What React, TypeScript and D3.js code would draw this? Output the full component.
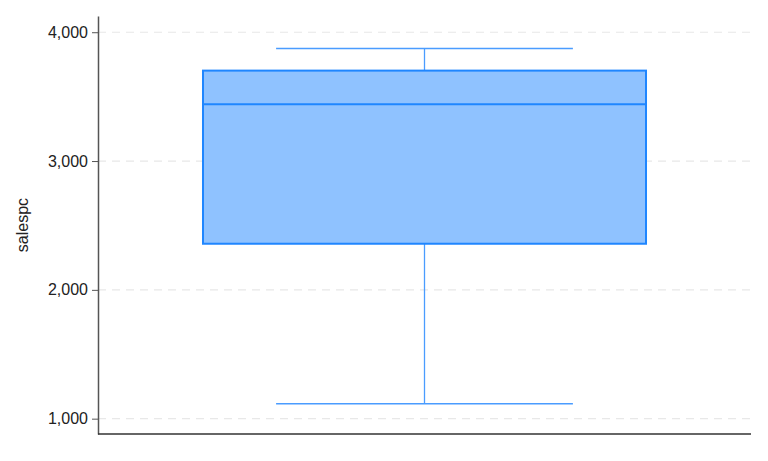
import * as d3 from "d3";
import { useEffect, useRef } from "react";

const categories = ["salespc"];
const q1 = [2358];
const median = [3441];
const q3 = [3702];
const whiskerLow = [1116];
const whiskerHigh = [3873];
const yTicks = [1000, 2000, 3000, 4000];

const FONT = "'Liberation Sans', Arial, sans-serif";

export default function App() {
  const ref = useRef<SVGSVGElement>(null);

  useEffect(() => {
    if (!ref.current) return;
    const width = 768;
    const height = 461;
    const margin = { top: 16, right: 17, bottom: 27, left: 98 };

    const svg = d3.select(ref.current);
    svg.selectAll("*").remove();

    const x = d3
      .scaleBand<string>()
      .domain(categories)
      .range([margin.left, width - margin.right])
      .paddingInner(0)
      .paddingOuter(0.237);
    const y = d3
      .scaleLinear()
      .domain([881, 4126])
      .range([height - margin.bottom, margin.top]);

    // grid
    svg
      .append("g")
      .selectAll("line")
      .data(yTicks)
      .join("line")
      .attr("x1", margin.left)
      .attr("x2", width - margin.right)
      .attr("y1", (d) => y(d))
      .attr("y2", (d) => y(d))
      .attr("stroke", "#e8e8e8")
      .attr("stroke-width", 1.2)
      .attr("stroke-dasharray", "8,6");

    const yAxis = svg
      .append("g")
      .attr("transform", `translate(${margin.left},0)`)
      .call(
        d3
          .axisLeft(y)
          .tickValues(yTicks)
          .tickFormat(d3.format(","))
          .tickSize(6)
          .tickPadding(4)
          .tickSizeOuter(0)
      );
    yAxis.attr("font-size", 16).attr("font-family", FONT);
    yAxis.select(".domain").attr("stroke", "#555").attr("stroke-width", 1.5);
    yAxis.selectAll(".tick line").attr("stroke", "#555");
    yAxis.selectAll("text").attr("fill", "#222");

    svg
      .append("line")
      .attr("x1", margin.left)
      .attr("x2", width - margin.right)
      .attr("y1", height - margin.bottom)
      .attr("y2", height - margin.bottom)
      .attr("stroke", "#333")
      .attr("stroke-width", 1.5);

    svg
      .append("text")
      .attr("transform", `translate(28,${(margin.top + height - margin.bottom) / 2}) rotate(-90)`)
      .attr("text-anchor", "middle")
      .attr("fill", "#222")
      .attr("font-family", FONT)
      .attr("font-size", 16)
      .text(categories[0]);

    const stroke = "#1f86ff";
    const whisker = "#4a9cff";
    categories.forEach((c, i) => {
      const x0 = x(c)!;
      const bw = x.bandwidth();
      const cx = x0 + bw / 2;
      const capW = bw * 0.67;
      const g = svg.append("g");
      g.append("line")
        .attr("x1", cx)
        .attr("x2", cx)
        .attr("y1", y(whiskerHigh[i]))
        .attr("y2", y(q3[i]))
        .attr("stroke", whisker)
        .attr("stroke-width", 1.3);
      g.append("line")
        .attr("x1", cx)
        .attr("x2", cx)
        .attr("y1", y(q1[i]))
        .attr("y2", y(whiskerLow[i]))
        .attr("stroke", whisker)
        .attr("stroke-width", 1.3);
      [whiskerHigh[i], whiskerLow[i]].forEach((v) => {
        g.append("line")
          .attr("x1", cx - capW / 2)
          .attr("x2", cx + capW / 2)
          .attr("y1", y(v))
          .attr("y2", y(v))
          .attr("stroke", whisker)
          .attr("stroke-width", 1.5);
      });
      g.append("rect")
        .attr("x", x0)
        .attr("width", bw)
        .attr("y", y(q3[i]))
        .attr("height", y(q1[i]) - y(q3[i]))
        .attr("fill", "#8fc2ff")
        .attr("stroke", stroke)
        .attr("stroke-width", 2);
      g.append("line")
        .attr("x1", x0)
        .attr("x2", x0 + bw)
        .attr("y1", y(median[i]))
        .attr("y2", y(median[i]))
        .attr("stroke", stroke)
        .attr("stroke-width", 2);
    });
  }, []);

  return (
    <svg
      ref={ref}
      width={768}
      height={461}
      style={{ position: "absolute", left: 0, top: 0, background: "#fff" }}
    />
  );
}
